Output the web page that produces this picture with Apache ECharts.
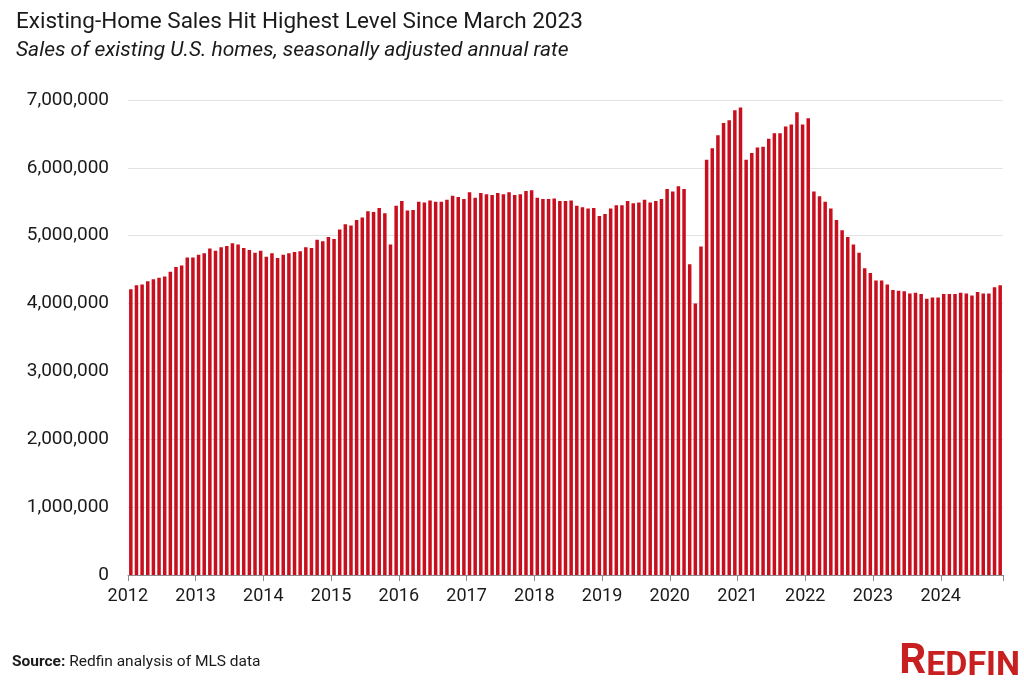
<!DOCTYPE html>
<html>
<head>
<meta charset="utf-8">
<script src="https://cdn.jsdelivr.net/npm/echarts@6/dist/echarts.min.js"></script>
<style>
  html, body { margin: 0; padding: 0; background: #fff; }
  #chart { width: 1024px; height: 681px; }
</style>
</head>
<body>
<div id="chart"></div>
<script>
// Existing-home sales, seasonally adjusted annual rate (millions), monthly
const sales2012 = [4.21, 4.27, 4.28, 4.33, 4.36, 4.38, 4.40, 4.47, 4.54, 4.56, 4.68, 4.68];
const sales2013 = [4.72, 4.74, 4.81, 4.78, 4.83, 4.85, 4.89, 4.87, 4.82, 4.79, 4.75, 4.78];
const sales2014 = [4.69, 4.74, 4.67, 4.72, 4.74, 4.76, 4.77, 4.83, 4.82, 4.94, 4.92, 4.98];
const sales2015 = [4.95, 5.09, 5.17, 5.15, 5.23, 5.27, 5.36, 5.35, 5.41, 5.33, 4.87, 5.44];
const sales2016 = [5.51, 5.37, 5.38, 5.50, 5.49, 5.52, 5.50, 5.50, 5.53, 5.59, 5.57, 5.54];
const sales2017 = [5.64, 5.56, 5.63, 5.61, 5.60, 5.63, 5.61, 5.64, 5.60, 5.61, 5.66, 5.67];
const sales2018 = [5.56, 5.54, 5.54, 5.55, 5.51, 5.51, 5.52, 5.44, 5.42, 5.40, 5.41, 5.29];
const sales2019 = [5.32, 5.40, 5.45, 5.45, 5.51, 5.48, 5.49, 5.53, 5.49, 5.51, 5.54, 5.69];
const sales2020 = [5.65, 5.73, 5.69, 4.58, 4.00, 4.84, 6.12, 6.29, 6.48, 6.66, 6.70, 6.85];
const sales2021 = [6.89, 6.12, 6.22, 6.30, 6.31, 6.43, 6.51, 6.51, 6.61, 6.64, 6.82, 6.64];
const sales2022 = [6.73, 5.65, 5.58, 5.50, 5.40, 5.23, 5.08, 4.98, 4.87, 4.75, 4.52, 4.45];
const sales2023 = [4.34, 4.34, 4.28, 4.20, 4.19, 4.18, 4.15, 4.16, 4.14, 4.07, 4.09, 4.09];
const sales2024 = [4.14, 4.14, 4.14, 4.16, 4.15, 4.12, 4.17, 4.15, 4.15, 4.24, 4.27];

const startYear = 2012;
const yearly = [sales2012, sales2013, sales2014, sales2015, sales2016, sales2017, sales2018,
                sales2019, sales2020, sales2021, sales2022, sales2023, sales2024];

const months = [];
const values = [];
yearly.forEach((arr, yi) => {
  arr.forEach((v, mi) => {
    months.push((startYear + yi) + '-' + String(mi + 1).padStart(2, '0'));
    values.push(Math.round(v * 1000000));
  });
});

const yTicks = { min: 0, max: 7000000, interval: 1000000 };
const FONT = 'Roboto, "Noto Sans", sans-serif';
const RED = '#c80f1d';

const chart = echarts.init(document.getElementById('chart'), null, { renderer: 'canvas' });
const isJan = (idx) => idx % 12 === 0;

chart.setOption({
  backgroundColor: '#ffffff',
  animation: false,
  textStyle: { fontFamily: FONT },
  title: [
    {
      text: 'Existing-Home Sales Hit Highest Level Since March 2023',
      left: 11, top: 6,
      textStyle: { fontFamily: FONT, fontSize: 22.5, fontWeight: 'normal', color: '#1a1a1a' }
    },
    {
      text: 'Sales of existing U.S. homes, seasonally adjusted annual rate',
      left: 11, top: 35,
      textStyle: { fontFamily: FONT, fontSize: 21, fontStyle: 'italic', fontWeight: 'normal', color: '#1a1a1a' }
    }
  ],
  graphic: [
    {
      type: 'text', left: 12, top: 654,
      style: {
        text: '{b|Source:} Redfin analysis of MLS data',
        rich: {
          b: { fontFamily: FONT, fontSize: 15.5, fontWeight: 'bold', fill: '#1a1a1a' }
        },
        font: '15.5px ' + FONT,
        fill: '#1a1a1a'
      }
    },
    {
      type: 'text', right: 4, top: 641,
      style: {
        text: '{r|R}{e|EDFIN}',
        rich: {
          r: { fontFamily: FONT, fontSize: 42, fontWeight: 'bold', fill: '#c82021', verticalAlign: 'bottom' },
          e: { fontFamily: FONT, fontSize: 34, fontWeight: 'bold', fill: '#c82021', verticalAlign: 'bottom' }
        }
      }
    }
  ],
  grid: { left: 128, right: 21, top: 100, bottom: 106, containLabel: false },
  xAxis: {
    type: 'category',
    data: months,
    boundaryGap: true,
    axisLine: { show: true, lineStyle: { color: '#8c8c8c', width: 1 } },
    axisTick: { show: true, interval: isJan, length: 6, lineStyle: { color: '#8c8c8c' } },
    axisLabel: {
      interval: isJan,
      formatter: (val) => val.slice(0, 4),
      fontFamily: FONT, fontSize: 18, color: '#1a1a1a', margin: 12, padding: [0, 6, 0, 0]
    },
    splitLine: { show: false }
  },
  yAxis: {
    type: 'value',
    min: yTicks.min, max: yTicks.max, interval: yTicks.interval,
    axisLine: { show: false },
    axisTick: { show: false },
    axisLabel: {
      formatter: (v) => v.toLocaleString('en-US'),
      fontFamily: FONT, fontSize: 19, color: '#1a1a1a', margin: 19
    },
    splitLine: { show: true, lineStyle: { color: '#e2e2e2', width: 1 } }
  },
  series: [{
    type: 'bar',
    data: values,
    barCategoryGap: '38%',
    itemStyle: { color: RED },
    silent: true
  }]
});
</script>
</body>
</html>
